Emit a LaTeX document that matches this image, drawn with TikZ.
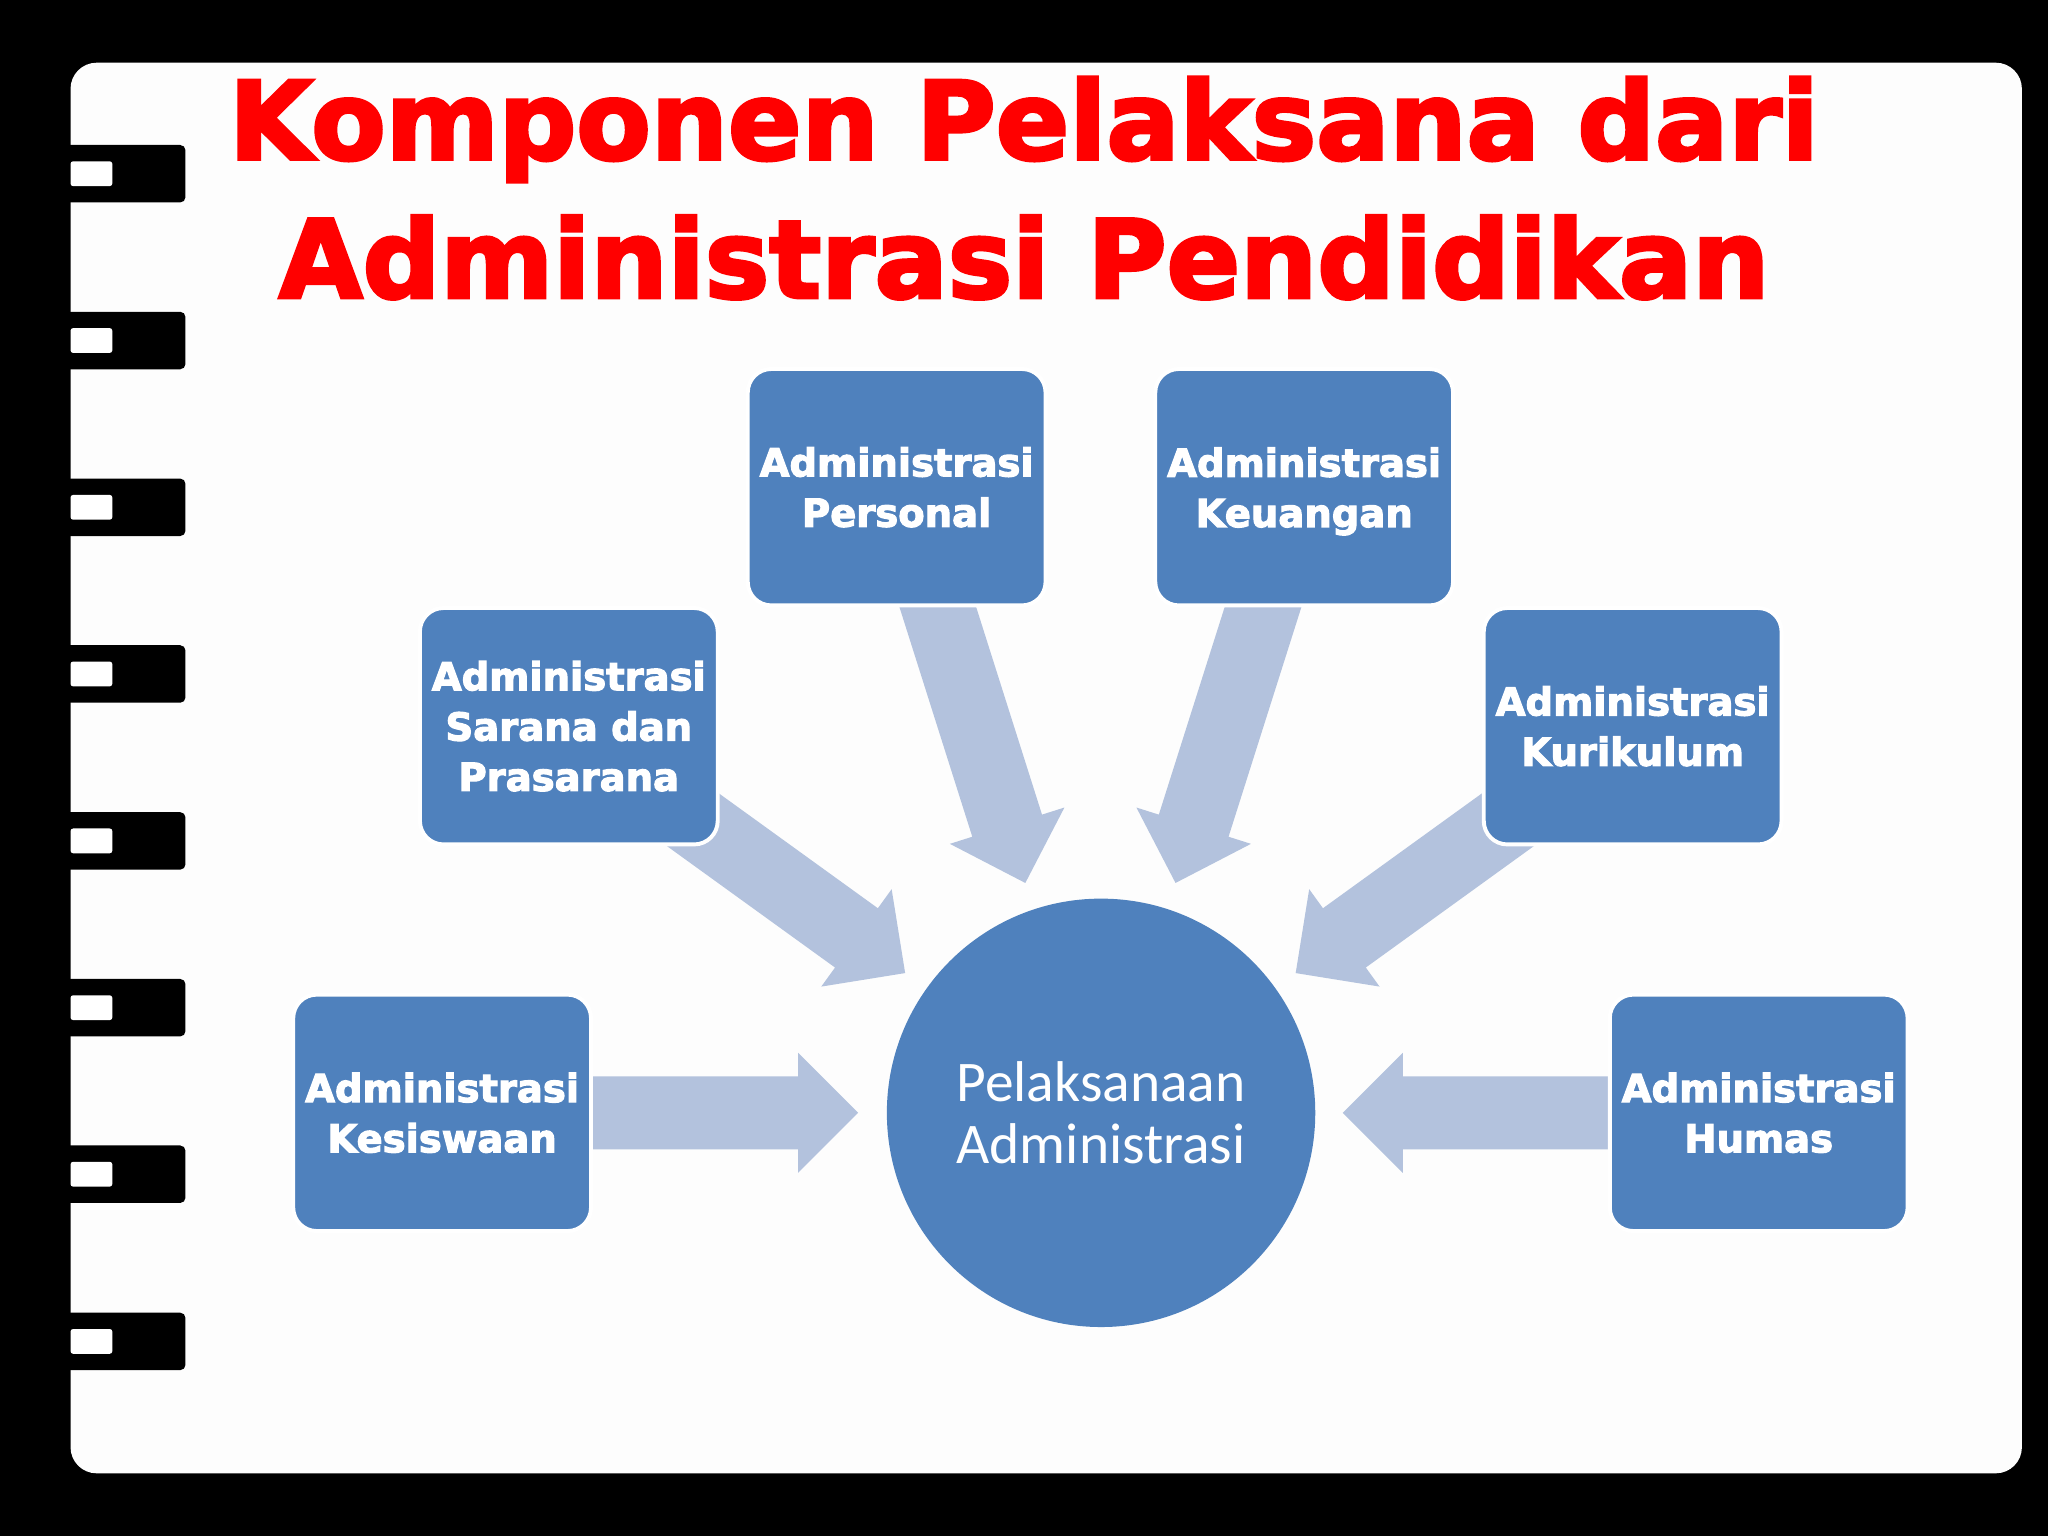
\documentclass[tikz,border=0pt]{standalone}
\usepackage{fontspec}
\usetikzlibrary{calc}
\newfontfamily\heavyfont{DejaVu Sans}[BoldFeatures={FakeBold=3}]
\newfontfamily\calibfont{Carlito}
\definecolor{boxblue}{HTML}{4F81BD}
\definecolor{arrowblue}{HTML}{B3C2DD}
\definecolor{titlered}{HTML}{FF0000}
\definecolor{pagewhite}{HTML}{FDFDFD}
\tikzset{
  adminbox/.style={draw=white, line width=3pt, fill=boxblue, rounded corners=18pt,
    minimum width=228pt, minimum height=181pt, inner sep=0pt, align=center,
    text=white, font=\heavyfont\bfseries\fontsize{29.5}{38.5}\selectfont},
  hub/.style={circle, fill=boxblue, minimum size=328pt, inner sep=0pt, align=center,
    text=white, font=\calibfont\fontsize{44}{48}\selectfont},
  titletext/.style={text=titlered, inner sep=0pt, anchor=base,
    font=\heavyfont\bfseries\fontsize{83}{106}\selectfont}
}
\newcommand{\blockarrow}[2]{%
  \coordinate (ab) at ($(#2)!46pt!(#1)$);
  \fill[arrowblue] ($(#1)!28pt!90:(#2)$) -- ($(ab)!28pt!90:(#2)$) -- ($(ab)!46pt!90:(#2)$)
    -- (#2) -- ($(ab)!46pt!-90:(#2)$) -- ($(ab)!28pt!-90:(#2)$) -- ($(#1)!28pt!-90:(#2)$) -- cycle;}
\begin{document}
\begin{tikzpicture}[x=1pt,y=-1pt]
\fill[black] (0,0) rectangle (1568,1176);
\useasboundingbox (0,0) rectangle (1568,1176);
\fill[pagewhite, rounded corners=20pt] (54,48) rectangle (1548,1128);
% binding tabs
\foreach \c in {133,260.7,388.4,516,643.8,771.5,899,1027}{
  \fill[black, rounded corners=4pt] (40,\c-22) rectangle (142,\c+22);
  \fill[white, rounded corners=2pt] (54,\c-9.5) rectangle (86,\c+9.5);
}
% title
\node[titletext] (t1) at (784,122) {Komponen Pelaksana dari};
\node[titletext] (t2) at (784,228) {Administrasi Pendidikan};
% arrow end points
\coordinate (tPer) at (713,449);   \coordinate (pPer) at (785,676);
\coordinate (tKeu) at (972,449);   \coordinate (pKeu) at (900,676);
\coordinate (tSar) at (520,620);   \coordinate (pSar) at (693,745);
\coordinate (tKur) at (1165,620);  \coordinate (pKur) at (992,745);
\coordinate (tKes) at (440,852);   \coordinate (pKes) at (657,852);
\coordinate (tHum) at (1245,852);  \coordinate (pHum) at (1028,852);
\blockarrow{tPer}{pPer}
\blockarrow{tKeu}{pKeu}
\blockarrow{tSar}{pSar}
\blockarrow{tKur}{pKur}
\blockarrow{tKes}{pKes}
\blockarrow{tHum}{pHum}
% boxes
\node[adminbox] (per) at (686.5,373) {Administrasi\\Personal};
\node[adminbox] (keu) at (998.5,373) {Administrasi\\\raisebox{0pt}[\height][0pt]{Keuangan}};
\node[adminbox] (sar) at (435.5,556) {Administrasi\\Sarana dan\\Prasarana};
\node[adminbox] (kur) at (1250,556) {Administrasi\\Kurikulum};
\node[adminbox] (kes) at (338.5,852) {Administrasi\\Kesiswaan};
\node[adminbox] (hum) at (1346.5,852) {Administrasi\\Humas};
\node[hub] (hubnode) at (843,852) {Pelaksanaan\\Administrasi};
\end{tikzpicture}
\end{document}
